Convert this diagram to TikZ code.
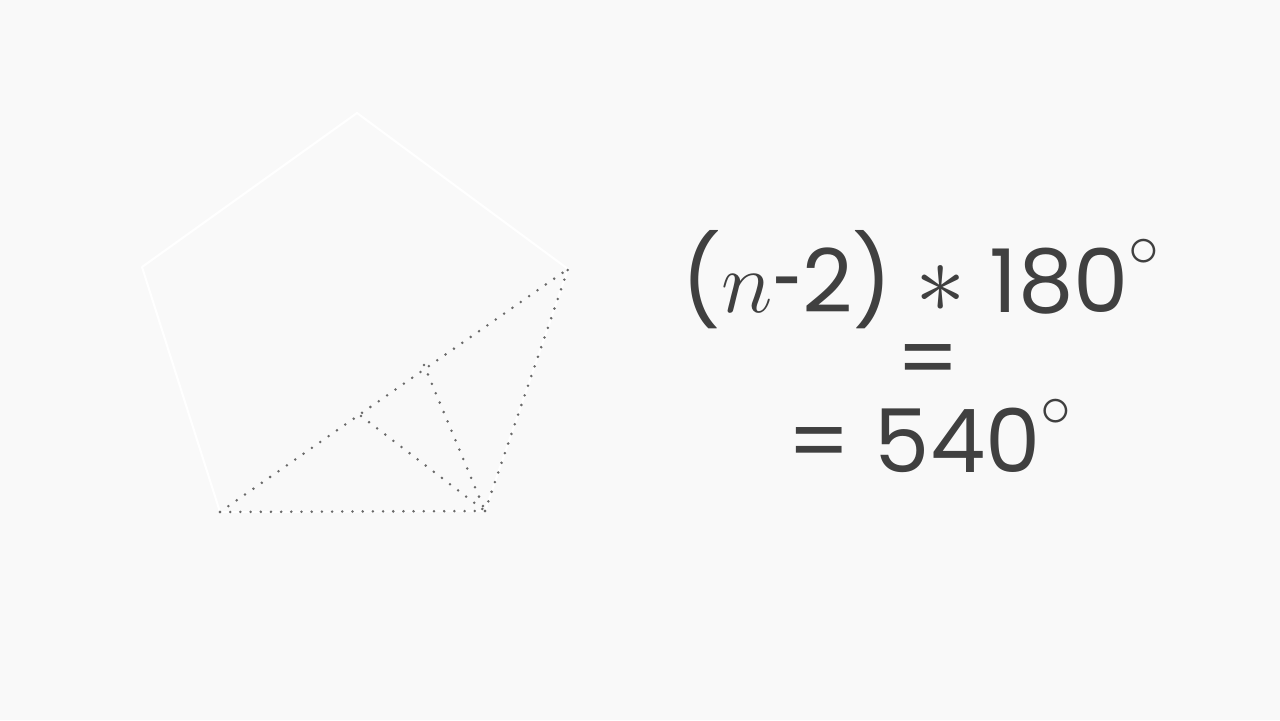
\documentclass[tikz,border=0pt]{standalone}
\usepackage{fix-cm}
\usepackage{fontspec}
\setmainfont{Poppins}
\usepackage{tikz}
\usetikzlibrary{positioning, calc}
\definecolor{paper}{RGB}{249,249,249}
\definecolor{inkgray}{RGB}{64,64,64}
\definecolor{dotgray}{RGB}{105,105,105}
\newcommand{\shorthyph}{\scalebox{0.6}[1]{-}}
\newcommand{\degr}{\raisebox{8pt}{$^\circ$}}

\begin{document}
\begin{tikzpicture}[x=0.02cm, y=-0.02cm,
    edge/.style={draw=white, line width=1.2pt, line join=round},
    diag/.style={draw=dotgray, line width=1.6pt, dash pattern=on 0pt off 5.8pt, line cap=round},
    formula/.style={text=inkgray, font=\fontsize{50}{60}\selectfont, inner sep=0pt}]
\fill[paper] (0,0) rectangle (1280,720);
% pentagon corners
\coordinate (A) at (220,512);
\coordinate (B) at (485,511);
\coordinate (C) at (568,269);
\coordinate (D) at (357,113);
\coordinate (E) at (142,267);
\coordinate (P) at (424,365);
\coordinate (Q) at (361,416);
\draw[edge] (A) -- (B) -- (C) -- (D) -- (E) -- cycle;
% triangulation
\draw[diag] (A) -- (B);
\draw[diag] (A) -- (C);
\draw[diag] (B) -- (C);
\draw[diag] (P) -- (B);
\draw[diag] (Q) -- (B);
% formula
\node[formula, anchor=base] (top) at (921,312) {($n$\shorthyph2) \scalebox{1.15}{$\ast$} 180\degr};
\node[formula, anchor=base] (eq) at (928,389) {=};
\node[formula, anchor=base] (sum) at (930,472) {= 540\degr};
\end{tikzpicture}
\end{document}
